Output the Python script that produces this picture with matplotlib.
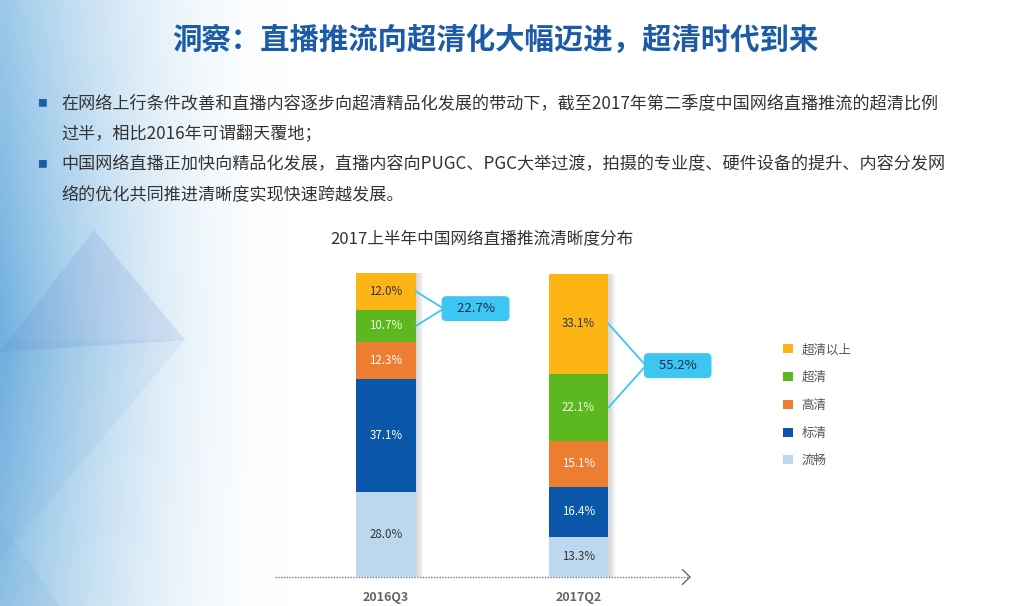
import numpy as np
import matplotlib.pyplot as plt
from matplotlib.patches import Patch, Polygon

plt.rcParams['font.family'] = ['Noto Sans CJK SC', 'DejaVu Sans']

W, H = 1026, 606

# data
periods = ['2016Q3', '2017Q2']
levels = ['流畅', '标清', '高清', '超清', '超清以上']
share_smooth = [28.0, 13.3]
share_sd = [37.1, 16.4]
share_hd = [12.3, 15.1]
share_fhd = [10.7, 22.1]
share_above = [12.0, 33.1]
fhd_total = [22.7, 55.2]

series = [share_smooth, share_sd, share_hd, share_fhd, share_above]
colors = ['#BDD7EE', '#0A56A8', '#ED7D31', '#5DB71E', '#FDB515']
text_colors = ['#333333', 'white', 'white', '#f0ffe0', '#333333']

title = '洞察：直播推流向超清化大幅迈进，超清时代到来'
bullet_lines = [
    '在网络上行条件改善和直播内容逐步向超清精品化发展的带动下，截至2017年第二季度中国网络直播推流的超清比例',
    '过半，相比2016年可谓翻天覆地；',
    '中国网络直播正加快向精品化发展，直播内容向PUGC、PGC大举过渡，拍摄的专业度、硬件设备的提升、内容分发网',
    '络的优化共同推进清晰度实现快速跨越发展。',
]
chart_title = '2017上半年中国网络直播推流清晰度分布'


def fx(x):
    return x / W


def fy(y):
    return 1 - y / H


fig = plt.figure(figsize=(W / 100, H / 100), dpi=100)

# background: blue fade on the left side
bg = fig.add_axes([0, 0, 1, 1])
gx = np.linspace(0, W, 206)
gy = np.linspace(0, H, 122)
X, Y = np.meshgrid(gx, gy)
a = np.clip(1 - X / 290, 0, 1) ** 1.8 * 0.72
a = a * (0.7 + 0.3 * np.clip(1 - np.abs(Y - 330) / 330, 0, 1))
blue = np.array([0x3a, 0x93, 0xd4]) / 255
img = np.ones((len(gy), len(gx), 3)) * (1 - a[..., None]) + blue * a[..., None]
bg.imshow(img, extent=[0, W, H, 0], aspect='auto', interpolation='bilinear')
bg.add_patch(Polygon([[94, 230], [0, 352], [185, 340]], closed=True,
                     facecolor='#5a78c8', alpha=0.15, edgecolor='none'))
bg.add_patch(Polygon([[0, 340], [185, 340], [0, 560]], closed=True,
                     facecolor='#4a8ad0', alpha=0.07, edgecolor='none'))
bg.add_patch(Polygon([[0, 520], [60, 606], [0, 606]], closed=True,
                     facecolor='#4a8ad0', alpha=0.08, edgecolor='none'))
bg.set_xlim(0, W)
bg.set_ylim(H, 0)
bg.axis('off')

# title + bullets
fig.text(fx(495), fy(40), title, ha='center', va='center', fontsize=21.2,
         fontweight='bold', color='#1B5BA7')
line_y = [103, 134, 164, 195]
for i, (line, yy) in enumerate(zip(bullet_lines, line_y)):
    fig.text(fx(61), fy(yy), line, ha='left', va='center', fontsize=12.3, color='#333333')
    if i in (0, 2):
        fig.text(fx(42), fy(yy), '■', ha='center', va='center', fontsize=7, color='#1B5BA7')

fig.text(fx(482), fy(239), chart_title, ha='center', va='center', fontsize=12, color='#333333')

# chart
ax = fig.add_axes([fx(275), fy(577), 415 / W, 305 / H])
ax.set_facecolor('none')
x = np.arange(len(periods))
bw = 0.31

totals = np.sum(series, axis=0)
for k, off in enumerate([0.012, 0.024, 0.036]):
    ax.bar(x + off, totals, bw, color='black', alpha=0.05, zorder=2, linewidth=0)

bottom = np.zeros(len(periods))
mids = []
for vals, c, tc in zip(series, colors, text_colors):
    vals = np.array(vals)
    ax.bar(x, vals, bw, bottom=bottom, color=c, zorder=3, linewidth=0)
    for xi, b, v in zip(x, bottom, vals):
        ax.text(xi, b + v / 2, f'{v:.1f}%', ha='center', va='center',
                fontsize=8.3, color=tc, zorder=4)
    mids.append(bottom + vals / 2)
    bottom = bottom + vals

# callouts linking 超清 + 超清以上
join_off = [0.30, 0.35]
for i, tot in enumerate(fhd_total):
    y_top = mids[4][i]
    y_low = mids[3][i]
    ym = (y_top + y_low) / 2
    jx = x[i] + join_off[i]
    ax.plot([x[i] + bw / 2, jx], [y_top, ym], color='#3EC6F2', lw=1.3, zorder=4)
    ax.plot([x[i] + bw / 2, jx], [y_low, ym], color='#3EC6F2', lw=1.3, zorder=4)
    ax.text(jx + 0.165, ym, f'   {tot:.1f}%   ', ha='center', va='center', fontsize=9.5,
            color='#1a2a4a', zorder=5,
            bbox=dict(boxstyle='round,pad=0.4,rounding_size=0.3', facecolor='#3EC6F2',
                      edgecolor='#3EC6F2'))

ax.set_xlim(-0.577, 1.579)
ax.set_ylim(0, 100.5)
ax.set_xticks(x, periods)
ax.tick_params(axis='x', length=0, pad=10, labelsize=9, labelcolor='#666666')
for lab in ax.get_xticklabels():
    lab.set_fontweight('bold')
ax.set_yticks([])
for s in ax.spines.values():
    s.set_visible(False)

# dotted axis with open arrow head
ax.plot([0, 1], [0, 0], transform=ax.transAxes, ls=(0, (1, 1)), color='#777777',
        lw=1, clip_on=False, zorder=1)
ax.plot([0.982, 1.0, 0.982], [0.024, 0, -0.024], transform=ax.transAxes,
        color='#666666', lw=1, clip_on=False)

# legend
handles = [Patch(facecolor=c, label=l) for c, l in zip(colors[::-1], levels[::-1])]
fig.legend(handles=handles, loc='upper left', bbox_to_anchor=(fx(772), fy(332)),
           frameon=False, fontsize=9, handlelength=0.75, handleheight=0.75,
           labelspacing=1.18, handletextpad=0.7, labelcolor='#555555')

fig.savefig('out.png', dpi=100)
